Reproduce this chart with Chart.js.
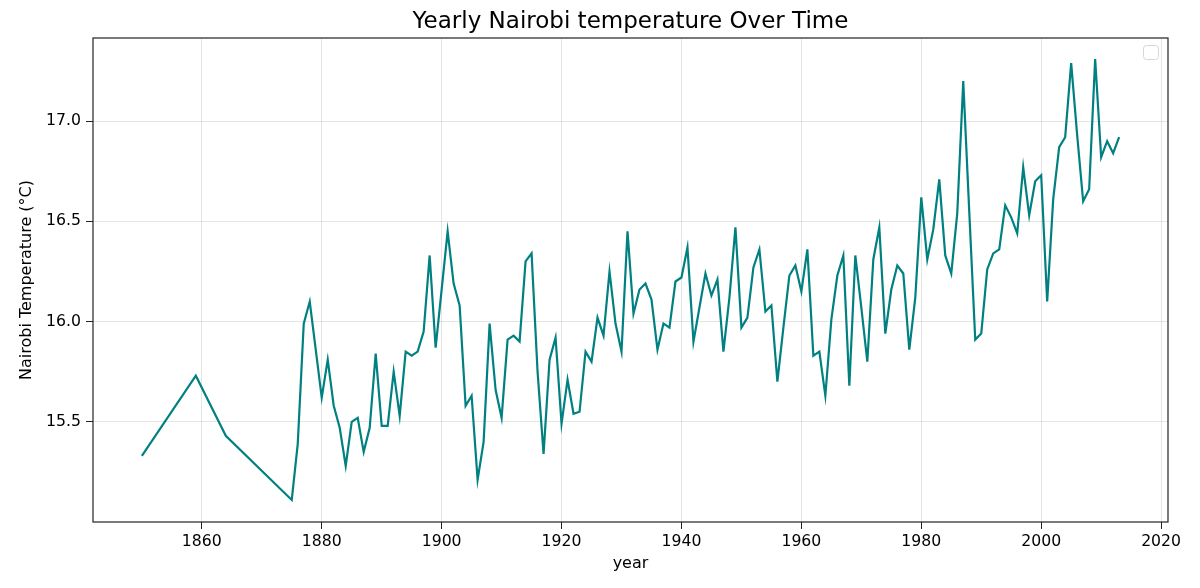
<!DOCTYPE html>
<html>
<head>
<meta charset="utf-8">
<script src="https://cdn.jsdelivr.net/npm/chart.js@4/dist/chart.umd.min.js"></script>
<style>
  html, body { margin: 0; padding: 0; background: #fff; }
  #c { display: block; }
</style>
</head>
<body>
<canvas id="c" width="1200" height="588"></canvas>
<script>
const years = [1850, 1859, 1864, 1875,
  1876, 1877, 1878, 1879, 1880, 1881, 1882, 1883, 1884, 1885, 1886, 1887, 1888, 1889,
  1890, 1891, 1892, 1893, 1894, 1895, 1896, 1897, 1898, 1899,
  1900, 1901, 1902, 1903, 1904, 1905, 1906, 1907, 1908, 1909,
  1910, 1911, 1912, 1913, 1914, 1915, 1916, 1917, 1918, 1919,
  1920, 1921, 1922, 1923, 1924, 1925, 1926, 1927, 1928, 1929,
  1930, 1931, 1932, 1933, 1934, 1935, 1936, 1937, 1938, 1939,
  1940, 1941, 1942, 1943, 1944, 1945, 1946, 1947, 1948, 1949,
  1950, 1951, 1952, 1953, 1954, 1955, 1956, 1957, 1958, 1959,
  1960, 1961, 1962, 1963, 1964, 1965, 1966, 1967, 1968, 1969,
  1970, 1971, 1972, 1973, 1974, 1975, 1976, 1977, 1978, 1979,
  1980, 1981, 1982, 1983, 1984, 1985, 1986, 1987, 1988, 1989,
  1990, 1991, 1992, 1993, 1994, 1995, 1996, 1997, 1998, 1999,
  2000, 2001, 2002, 2003, 2004, 2005, 2006, 2007, 2008, 2009,
  2010, 2011, 2012, 2013];

const temps = [15.33, 15.73, 15.43, 15.11,
  15.39, 15.99, 16.10, 15.86, 15.62, 15.81, 15.58, 15.47, 15.28, 15.50, 15.52, 15.35, 15.47, 15.84,
  15.48, 15.48, 15.75, 15.53, 15.85, 15.83, 15.85, 15.95, 16.33, 15.87,
  16.16, 16.45, 16.19, 16.08, 15.58, 15.63, 15.21, 15.40, 15.99, 15.66,
  15.52, 15.91, 15.93, 15.90, 16.30, 16.34, 15.75, 15.34, 15.81, 15.92,
  15.49, 15.71, 15.54, 15.55, 15.85, 15.80, 16.02, 15.93, 16.25, 15.99,
  15.85, 16.45, 16.04, 16.16, 16.19, 16.11, 15.86, 15.99, 15.97, 16.20,
  16.22, 16.37, 15.90, 16.07, 16.24, 16.13, 16.21, 15.85, 16.12, 16.47,
  15.97, 16.02, 16.27, 16.36, 16.05, 16.08, 15.70, 15.97, 16.23, 16.28,
  16.15, 16.36, 15.83, 15.85, 15.63, 16.01, 16.23, 16.33, 15.68, 16.33,
  16.07, 15.80, 16.31, 16.47, 15.94, 16.16, 16.28, 16.24, 15.86, 16.12,
  16.62, 16.31, 16.46, 16.71, 16.33, 16.24, 16.54, 17.20, 16.55, 15.91,
  15.94, 16.26, 16.34, 16.36, 16.58, 16.52, 16.44, 16.77, 16.53, 16.70,
  16.73, 16.10, 16.61, 16.87, 16.92, 17.29, 16.93, 16.60, 16.66, 17.31,
  16.82, 16.90, 16.84, 16.92];

const xTicks = [1860, 1880, 1900, 1920, 1940, 1960, 1980, 2000, 2020];
const yTicks = [15.5, 16.0, 16.5, 17.0];
const chartTitle = 'Yearly Nairobi temperature Over Time';

const FONT = "'DejaVu Sans', 'Liberation Sans', sans-serif";
const INK = '#222';
const GRID = 'rgba(0,0,0,0.1)';

const framePlugin = {
  id: 'frame',
  afterDatasetsDraw(chart) {
    const { ctx, chartArea: a } = chart;
    ctx.save();
    ctx.strokeStyle = INK;
    ctx.lineWidth = 1.2;
    ctx.strokeRect(a.left, a.top, a.right - a.left, a.bottom - a.top);
    // empty legend frame (top-right)
    const x = a.right - 24.5, y = a.top + 7.5, w = 15, h = 14, r = 3;
    ctx.beginPath();
    ctx.moveTo(x + r, y);
    ctx.lineTo(x + w - r, y);
    ctx.arcTo(x + w, y, x + w, y + r, r);
    ctx.lineTo(x + w, y + h - r);
    ctx.arcTo(x + w, y + h, x + w - r, y + h, r);
    ctx.lineTo(x + r, y + h);
    ctx.arcTo(x, y + h, x, y + h - r, r);
    ctx.lineTo(x, y + r);
    ctx.arcTo(x, y, x + r, y, r);
    ctx.closePath();
    ctx.fillStyle = 'rgba(255,255,255,0.8)';
    ctx.fill();
    ctx.strokeStyle = '#d6d6d6';
    ctx.lineWidth = 1;
    ctx.stroke();
    // title centred over the plot area
    ctx.fillStyle = '#000';
    ctx.font = "23px " + FONT;
    ctx.textAlign = 'center';
    ctx.textBaseline = 'alphabetic';
    ctx.fillText(chartTitle, (a.left + a.right) / 2, 28);
    ctx.restore();
  }
};

new Chart(document.getElementById('c'), {
  type: 'line',
  data: {
    datasets: [{
      data: years.map((yr, i) => ({ x: yr, y: temps[i] })),
      borderColor: '#008080',
      borderWidth: 2.2,
      pointRadius: 0,
      tension: 0,
      fill: false
    }]
  },
  options: {
    responsive: false,
    animation: false,
    devicePixelRatio: 1,
    layout: { padding: { left: 0, right: 32, top: 38, bottom: 0 } },
    plugins: {
      legend: { display: false },
      tooltip: { enabled: false },
      title: { display: false }
    },
    scales: {
      x: {
        type: 'linear',
        min: 1841.85,
        max: 2021.15,
        afterBuildTicks: s => { s.ticks = xTicks.map(v => ({ value: v })); },
        afterFit: s => { s.height = 66; },
        ticks: {
          color: '#000',
          font: { family: FONT, size: 15.7 },
          padding: 4,
          maxRotation: 0,
          autoSkip: false,
          callback: v => String(v)
        },
        grid: { color: GRID, lineWidth: 1, tickColor: INK, tickLength: 7, drawTicks: true },
        border: { display: false },
        title: {
          display: true,
          text: 'year',
          color: '#000',
          font: { family: FONT, size: 16, lineHeight: 1.2 },
          padding: { top: 0, bottom: 15 }
        }
      },
      y: {
        type: 'linear',
        min: 15.0,
        max: 17.415,
        afterBuildTicks: s => { s.ticks = yTicks.map(v => ({ value: v })); },
        afterFit: s => { s.width = 93; },
        ticks: {
          color: '#000',
          font: { family: FONT, size: 15.7 },
          padding: 5,
          autoSkip: false,
          callback: v => v.toFixed(1)
        },
        grid: { color: GRID, lineWidth: 1, tickColor: INK, tickLength: 7, drawTicks: true },
        border: { display: false },
        title: {
          display: true,
          text: 'Nairobi Temperature (°C)',
          color: '#000',
          font: { family: FONT, size: 16, lineHeight: 1.2 },
          padding: { top: 17, bottom: 0 }
        }
      }
    }
  },
  plugins: [framePlugin]
});
</script>
</body>
</html>
